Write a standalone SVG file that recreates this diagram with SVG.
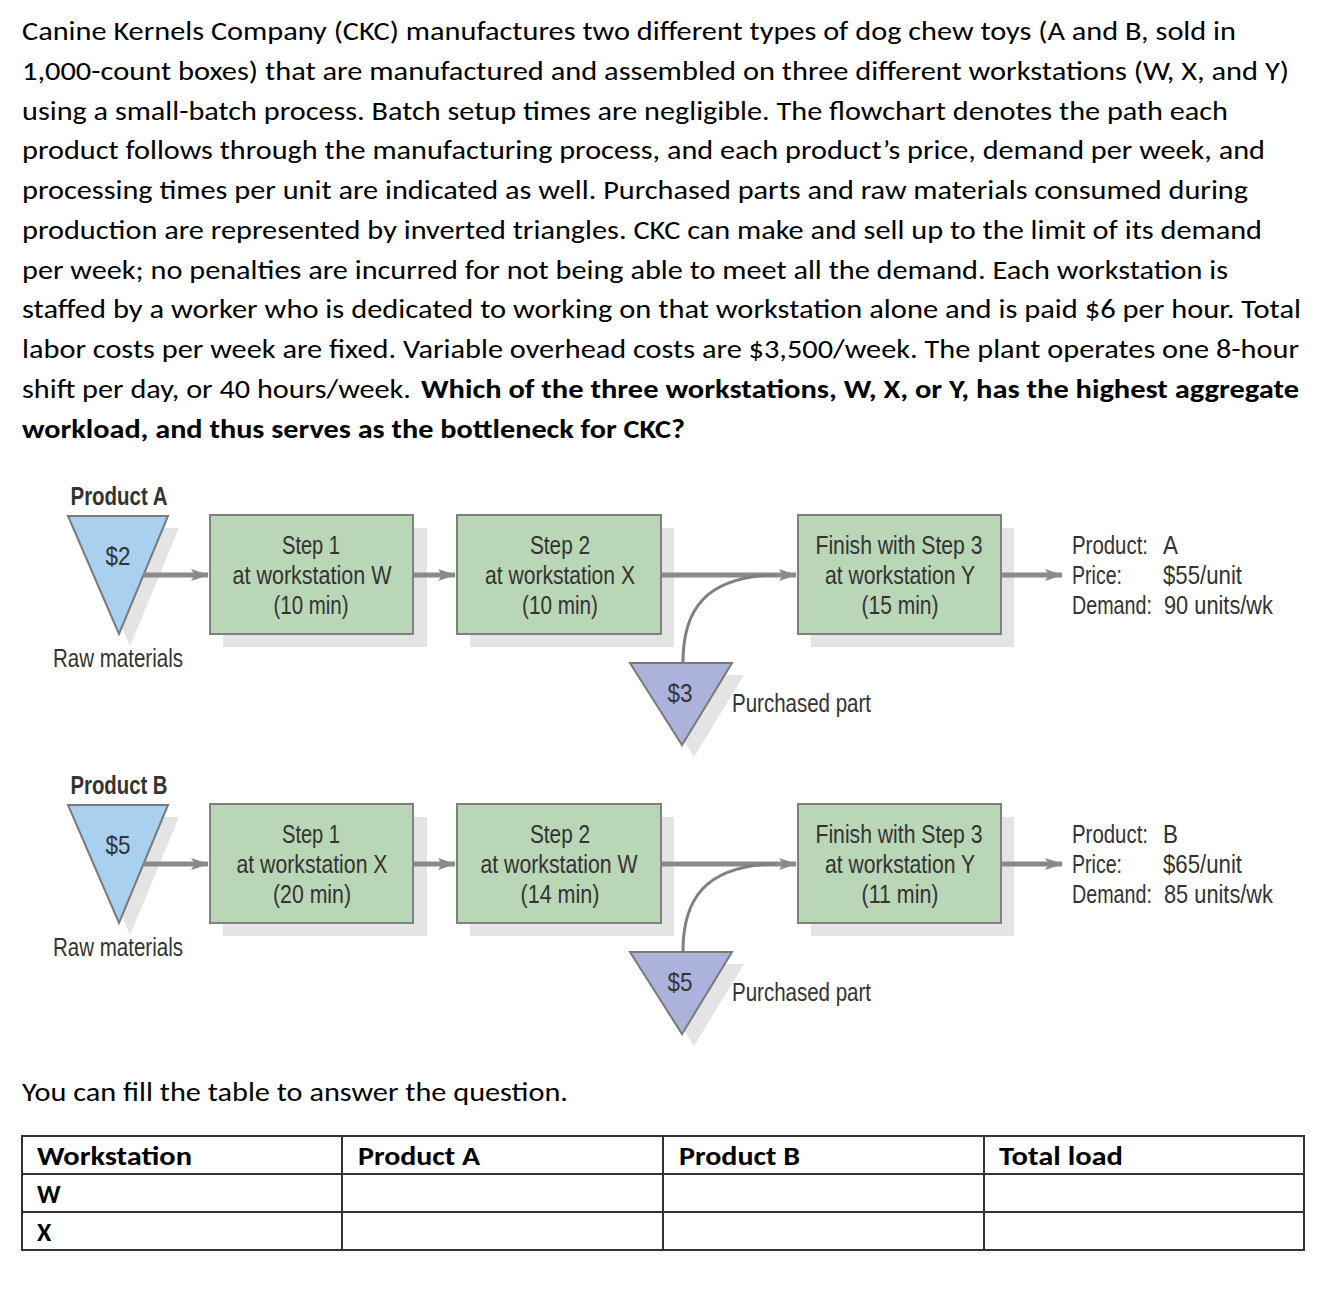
<svg xmlns="http://www.w3.org/2000/svg" width="1335" height="1291" viewBox="0 0 1335 1291">
<defs>
<style>
.p{font-family:Carlito,Calibri,Lato,"Noto Sans",sans-serif;font-size:26px;fill:#000}
.pb{font-family:Carlito,Calibri,Lato,"Noto Sans",sans-serif;font-size:26px;font-weight:bold;fill:#000}
.f{font-family:"Liberation Sans Narrow","Liberation Sans",Arial,sans-serif;font-size:25px;fill:#333}
.fc{font-family:"Liberation Sans Narrow","Liberation Sans",Arial,sans-serif;font-size:25px;fill:#333;text-anchor:middle}
.fb{font-family:"Liberation Sans Narrow","Liberation Sans",Arial,sans-serif;font-size:25px;font-weight:bold;fill:#333;text-anchor:middle}
.box{fill:#b9d6b6;stroke:#808080;stroke-width:2}
.sh{fill:#e4e4e4}
.raw{fill:#a9d0ee;stroke:#7a7a7a;stroke-width:2}
.buy{fill:#abb3dd;stroke:#7a7a7a;stroke-width:2}
.con{stroke:#8a8a8a;stroke-width:5;fill:none}
.cur{stroke:#808080;stroke-width:3;fill:none}
.tb{fill:none;stroke:#333;stroke-width:2}
</style>
<marker id="ah" markerUnits="userSpaceOnUse" markerWidth="20" markerHeight="14" refX="17" refY="7" orient="auto">
<path d="M0,1 L18,7 L0,13 L4,7 z" fill="#8a8a8a"/>
</marker>
</defs>
<rect width="1335" height="1291" fill="#fff"/>

<g id="paragraph">
<text class="p" x="22" y="40" textLength="1214" lengthAdjust="spacingAndGlyphs">Canine Kernels Company (CKC) manufactures two different types of dog chew toys (A and B, sold in</text>
<text class="p" x="22" y="80" textLength="1267" lengthAdjust="spacingAndGlyphs">1,000-count boxes) that are manufactured and assembled on three different workstations (W, X, and Y)</text>
<text class="p" x="22" y="120" textLength="1206" lengthAdjust="spacingAndGlyphs">using a small-batch process. Batch setup times are negligible. The flowchart denotes the path each</text>
<text class="p" x="22" y="159" textLength="1243" lengthAdjust="spacingAndGlyphs">product follows through the manufacturing process, and each product’s price, demand per week, and</text>
<text class="p" x="22" y="199" textLength="1226" lengthAdjust="spacingAndGlyphs">processing times per unit are indicated as well. Purchased parts and raw materials consumed during</text>
<text class="p" x="22" y="239" textLength="1240" lengthAdjust="spacingAndGlyphs">production are represented by inverted triangles. CKC can make and sell up to the limit of its demand</text>
<text class="p" x="22" y="279" textLength="1206" lengthAdjust="spacingAndGlyphs">per week; no penalties are incurred for not being able to meet all the demand. Each workstation is</text>
<text class="p" x="22" y="318" textLength="1279" lengthAdjust="spacingAndGlyphs">staffed by a worker who is dedicated to working on that workstation alone and is paid $6 per hour. Total</text>
<text class="p" x="22" y="358" textLength="1277" lengthAdjust="spacingAndGlyphs">labor costs per week are fixed. Variable overhead costs are $3,500/week. The plant operates one 8-hour</text>
<text class="p" x="22" y="398" textLength="389" lengthAdjust="spacingAndGlyphs">shift per day, or 40 hours/week.</text>
<text class="pb" x="421" y="398" textLength="878" lengthAdjust="spacingAndGlyphs">Which of the three workstations, W, X, or Y, has the highest aggregate</text>
<text class="pb" x="22" y="438" textLength="663" lengthAdjust="spacingAndGlyphs">workload, and thus serves as the bottleneck for CKC?</text>
</g>

<g id="rawA">
<text class="fb" x="119" y="505" textLength="97" lengthAdjust="spacingAndGlyphs">Product A</text>
<polygon class="sh" points="79,528 179,528 130,646"/>
<polygon class="raw" points="68,516 168,516 119,634"/>
<text class="fc" x="118" y="565" textLength="25" lengthAdjust="spacingAndGlyphs">$2</text>
<text class="fc" x="118" y="667" textLength="130" lengthAdjust="spacingAndGlyphs">Raw materials</text>
</g>
<g id="boxA1">
<rect class="sh" x="223" y="528" width="204" height="119"/>
<rect class="box" x="210" y="515" width="203" height="119"/>
<text class="fc" x="311" y="554" textLength="58" lengthAdjust="spacingAndGlyphs">Step 1</text>
<text class="fc" x="312" y="584" textLength="159" lengthAdjust="spacingAndGlyphs">at workstation W</text>
<text class="fc" x="311" y="614" textLength="75" lengthAdjust="spacingAndGlyphs">(10 min)</text>
</g>
<g id="boxA2">
<rect class="sh" x="470" y="528" width="204" height="119"/>
<rect class="box" x="457" y="515" width="204" height="119"/>
<text class="fc" x="560" y="554" textLength="60" lengthAdjust="spacingAndGlyphs">Step 2</text>
<text class="fc" x="560" y="584" textLength="150" lengthAdjust="spacingAndGlyphs">at workstation X</text>
<text class="fc" x="560" y="614" textLength="76" lengthAdjust="spacingAndGlyphs">(10 min)</text>
</g>
<g id="boxA3">
<rect class="sh" x="811" y="528" width="203" height="119"/>
<rect class="box" x="798" y="515" width="203" height="119"/>
<text class="fc" x="899" y="554" textLength="167" lengthAdjust="spacingAndGlyphs">Finish with Step 3</text>
<text class="fc" x="900" y="584" textLength="150" lengthAdjust="spacingAndGlyphs">at workstation Y</text>
<text class="fc" x="900" y="614" textLength="77" lengthAdjust="spacingAndGlyphs">(15 min)</text>
</g>
<g id="partA">
<polygon class="sh" points="642,675 744,675 694,757"/>
<polygon class="buy" points="630,663 732,663 682,745"/>
<text class="fc" x="680" y="702" textLength="25" lengthAdjust="spacingAndGlyphs">$3</text>
<text class="f" x="732" y="712" textLength="139" lengthAdjust="spacingAndGlyphs">Purchased part</text>
</g>
<g id="infoA">
<text class="f" x="1072" y="554" textLength="76" lengthAdjust="spacingAndGlyphs">Product:</text>
<text class="f" x="1163" y="554" textLength="15" lengthAdjust="spacingAndGlyphs">A</text>
<text class="f" x="1072" y="584" textLength="50" lengthAdjust="spacingAndGlyphs">Price:</text>
<text class="f" x="1163" y="584" textLength="79" lengthAdjust="spacingAndGlyphs">$55/unit</text>
<text class="f" x="1072" y="614" textLength="80" lengthAdjust="spacingAndGlyphs">Demand:</text>
<text class="f" x="1164" y="614" textLength="109" lengthAdjust="spacingAndGlyphs">90 units/wk</text>
</g>

<g id="rawB">
<text class="fb" x="119" y="794" textLength="97" lengthAdjust="spacingAndGlyphs">Product B</text>
<polygon class="sh" points="79,817 179,817 130,935"/>
<polygon class="raw" points="68,805 168,805 119,923"/>
<text class="fc" x="118" y="854" textLength="25" lengthAdjust="spacingAndGlyphs">$5</text>
<text class="fc" x="118" y="956" textLength="130" lengthAdjust="spacingAndGlyphs">Raw materials</text>
</g>
<g id="boxB1">
<rect class="sh" x="223" y="817" width="204" height="119"/>
<rect class="box" x="210" y="804" width="203" height="119"/>
<text class="fc" x="311" y="843" textLength="58" lengthAdjust="spacingAndGlyphs">Step 1</text>
<text class="fc" x="312" y="873" textLength="151" lengthAdjust="spacingAndGlyphs">at workstation X</text>
<text class="fc" x="312" y="903" textLength="78" lengthAdjust="spacingAndGlyphs">(20 min)</text>
</g>
<g id="boxB2">
<rect class="sh" x="470" y="817" width="204" height="119"/>
<rect class="box" x="457" y="804" width="204" height="119"/>
<text class="fc" x="560" y="843" textLength="60" lengthAdjust="spacingAndGlyphs">Step 2</text>
<text class="fc" x="559" y="873" textLength="157" lengthAdjust="spacingAndGlyphs">at workstation W</text>
<text class="fc" x="560" y="903" textLength="79" lengthAdjust="spacingAndGlyphs">(14 min)</text>
</g>
<g id="boxB3">
<rect class="sh" x="811" y="817" width="203" height="119"/>
<rect class="box" x="798" y="804" width="203" height="119"/>
<text class="fc" x="899" y="843" textLength="167" lengthAdjust="spacingAndGlyphs">Finish with Step 3</text>
<text class="fc" x="900" y="873" textLength="150" lengthAdjust="spacingAndGlyphs">at workstation Y</text>
<text class="fc" x="900" y="903" textLength="77" lengthAdjust="spacingAndGlyphs">(11 min)</text>
</g>
<g id="partB">
<polygon class="sh" points="642,964 744,964 694,1046"/>
<polygon class="buy" points="630,952 732,952 682,1034"/>
<text class="fc" x="680" y="991" textLength="25" lengthAdjust="spacingAndGlyphs">$5</text>
<text class="f" x="732" y="1001" textLength="139" lengthAdjust="spacingAndGlyphs">Purchased part</text>
</g>
<g id="infoB">
<text class="f" x="1072" y="843" textLength="76" lengthAdjust="spacingAndGlyphs">Product:</text>
<text class="f" x="1163" y="843" textLength="15" lengthAdjust="spacingAndGlyphs">B</text>
<text class="f" x="1072" y="873" textLength="50" lengthAdjust="spacingAndGlyphs">Price:</text>
<text class="f" x="1163" y="873" textLength="79" lengthAdjust="spacingAndGlyphs">$65/unit</text>
<text class="f" x="1072" y="903" textLength="80" lengthAdjust="spacingAndGlyphs">Demand:</text>
<text class="f" x="1164" y="903" textLength="109" lengthAdjust="spacingAndGlyphs">85 units/wk</text>
</g>

<g id="connectors">
<line class="con" x1="143" y1="575" x2="208" y2="575" marker-end="url(#ah)"/>
<line class="con" x1="414" y1="575" x2="455" y2="575" marker-end="url(#ah)"/>
<line class="con" x1="662" y1="575" x2="796" y2="575" marker-end="url(#ah)"/>
<path class="cur" d="M683,662 C683,610 705,577 775,575"/>
<line class="con" x1="1002" y1="575" x2="1062" y2="575" marker-end="url(#ah)"/>
<line class="con" x1="143" y1="864" x2="208" y2="864" marker-end="url(#ah)"/>
<line class="con" x1="414" y1="864" x2="455" y2="864" marker-end="url(#ah)"/>
<line class="con" x1="662" y1="864" x2="796" y2="864" marker-end="url(#ah)"/>
<path class="cur" d="M683,951 C683,899 705,866 775,864"/>
<line class="con" x1="1002" y1="864" x2="1062" y2="864" marker-end="url(#ah)"/>
</g>

<text class="p" x="22" y="1101" textLength="546" lengthAdjust="spacingAndGlyphs">You can fill the table to answer the question.</text>

<g id="table">
<rect class="tb" x="22" y="1136" width="1282" height="114"/>
<line class="tb" x1="22" y1="1174" x2="1304" y2="1174"/>
<line class="tb" x1="22" y1="1212" x2="1304" y2="1212"/>
<line class="tb" x1="342" y1="1136" x2="342" y2="1250"/>
<line class="tb" x1="663" y1="1136" x2="663" y2="1250"/>
<line class="tb" x1="984" y1="1136" x2="984" y2="1250"/>
<text class="pb" x="37" y="1165" textLength="155" lengthAdjust="spacingAndGlyphs">Workstation</text>
<text class="pb" x="358" y="1165" textLength="122" lengthAdjust="spacingAndGlyphs">Product A</text>
<text class="pb" x="679" y="1165" textLength="121" lengthAdjust="spacingAndGlyphs">Product B</text>
<text class="pb" x="999" y="1165" textLength="124" lengthAdjust="spacingAndGlyphs">Total load</text>
<text class="pb" x="37" y="1203">W</text>
<text class="pb" x="37" y="1241">X</text>
</g>
</svg>
